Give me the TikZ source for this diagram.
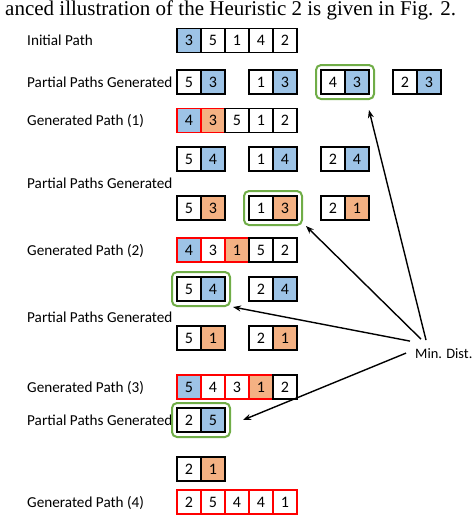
\documentclass[tikz,border=0pt]{standalone}
\usepackage{fontspec}
\setmainfont{Carlito}
\newfontfamily\capfont{Liberation Serif}
\usetikzlibrary{fit,arrows.meta}
\definecolor{cellblue}{HTML}{9DC3E6}
\definecolor{cellorange}{HTML}{F4B183}
\definecolor{boxgreen}{HTML}{70AD47}
\tikzstyle{cell} = [draw=black, line width=1.1pt, rectangle, minimum size=24pt, inner sep=0pt, outer sep=0pt, font=\fontsize{16}{18}\selectfont]
\tikzstyle{rowlabel} = [anchor=base west, inner sep=0pt, font=\fontsize{15.2}{17}\selectfont]
\tikzstyle{minbox} = [draw=boxgreen, line width=2pt, rounded corners=5pt, inner sep=5pt]
\tikzstyle{pointer} = [-{Stealth[length=8pt,width=6pt]}, line width=1.4pt]

\begin{document}
\begin{tikzpicture}[x=1pt,y=-1pt]
	\clip (0,0) rectangle (474,515);
	\node[anchor=base west, inner sep=0pt, font=\capfont\fontsize{21}{24}\selectfont] (caption) at (5,15) {anced illustration of the Heuristic 2 is given in Fig. 2.};

	% row labels
	\node[rowlabel] (lini) at (27,45.5) {Initial Path};
	\node[rowlabel] (lpA) at (27,87) {Partial Paths Generated};
	\node[rowlabel] (lgA) at (27,125.5) {Generated Path (1)};
	\node[rowlabel] (lpB) at (27,188.5) {Partial Paths Generated};
	\node[rowlabel] (lgB) at (27,255) {Generated Path (2)};
	\node[rowlabel] (lpC) at (27,322) {Partial Paths Generated};
	\node[rowlabel] (lgC) at (27,392) {Generated Path (3)};
	\node[rowlabel] (lpD) at (27,425) {Partial Paths Generated};
	\node[rowlabel] (lgD) at (27,507) {Generated Path (4)};

	% full paths
	\foreach \v/\f [count=\i] in {3/cellblue,5/white,1/white,4/white,2/white}
		\node[cell,fill=\f] (ini\i) at (165+24*\i,40.5) {\v};
	\foreach \v/\f/\d [count=\i] in {4/cellblue/red,3/cellorange/red,5/white/black,1/white/black,2/white/black}
		\node[cell,fill=\f,draw=\d] (gA\i) at (165+24*\i,120.5) {\v};
	\foreach \v/\f/\d [count=\i] in {4/cellblue/red,3/white/red,1/cellorange/red,5/white/black,2/white/black}
		\node[cell,fill=\f,draw=\d] (gB\i) at (165+24*\i,250) {\v};
	\foreach \v/\f/\d [count=\i] in {5/cellblue/red,4/white/red,3/white/red,1/cellorange/red,2/white/black}
		\node[cell,fill=\f,draw=\d] (gC\i) at (165+24*\i,387) {\v};
	\foreach \v [count=\i] in {2,5,4,4,1}
		\node[cell,draw=red] (gD\i) at (165+24*\i,502) {\v};

	% partial paths
	\foreach \a/\b/\f [count=\k] in {5/3/cellblue,1/3/cellblue,4/3/cellblue,2/3/cellblue} {
		\node[cell] (pAl\k) at (117+72*\k,82) {\a};
		\node[cell,fill=\f] (pAr\k) at (141+72*\k,82) {\b};
	}
	\foreach \a/\b/\f [count=\k] in {5/4/cellblue,1/4/cellblue,2/4/cellblue} {
		\node[cell] (pBl\k) at (117+72*\k,159) {\a};
		\node[cell,fill=\f] (pBr\k) at (141+72*\k,159) {\b};
	}
	\foreach \a/\b/\f [count=\k] in {5/3/cellorange,1/3/cellorange,2/1/cellorange} {
		\node[cell] (pCl\k) at (117+72*\k,208) {\a};
		\node[cell,fill=\f] (pCr\k) at (141+72*\k,208) {\b};
	}
	\foreach \a/\b/\f [count=\k] in {5/4/cellblue,2/4/cellblue} {
		\node[cell] (pDl\k) at (117+72*\k,289) {\a};
		\node[cell,fill=\f] (pDr\k) at (141+72*\k,289) {\b};
	}
	\foreach \a/\b/\f [count=\k] in {5/1/cellorange,2/1/cellorange} {
		\node[cell] (pEl\k) at (117+72*\k,338) {\a};
		\node[cell,fill=\f] (pEr\k) at (141+72*\k,338) {\b};
	}
	\node[cell] (pFl1) at (189,420) {2};
	\node[cell,fill=cellblue] (pFr1) at (213,420) {5};
	\node[cell] (pGl1) at (189,469) {2};
	\node[cell,fill=cellorange] (pGr1) at (213,469) {1};

	% chosen ones
	\node[minbox, fit=(pAl3)(pAr3)] (minA) {};
	\node[minbox, fit=(pCl2)(pCr2)] (minB) {};
	\node[minbox, fit=(pDl1)(pDr1)] (minC) {};
	\node[minbox, fit=(pFl1)(pFr1)] (minD) {};

	\node[rowlabel, font=\fontsize{14.4}{17}\selectfont] (mind) at (415,358) {Min. Dist.};
	\draw[pointer] ([xshift=11pt,yshift=13pt]mind.west) -- ([xshift=24pt,yshift=-10pt]minA.south);
	\draw[pointer] ([xshift=6pt,yshift=14pt]mind.west) -- ([xshift=3pt]minB.south east);
	\draw[pointer] ([xshift=-5pt,yshift=12pt]mind.west) -- ([xshift=2pt]minC.south east);
	\draw[pointer] ([xshift=-9pt]mind.west) -- ([xshift=12pt]minD.east);
\end{tikzpicture}
\end{document}
